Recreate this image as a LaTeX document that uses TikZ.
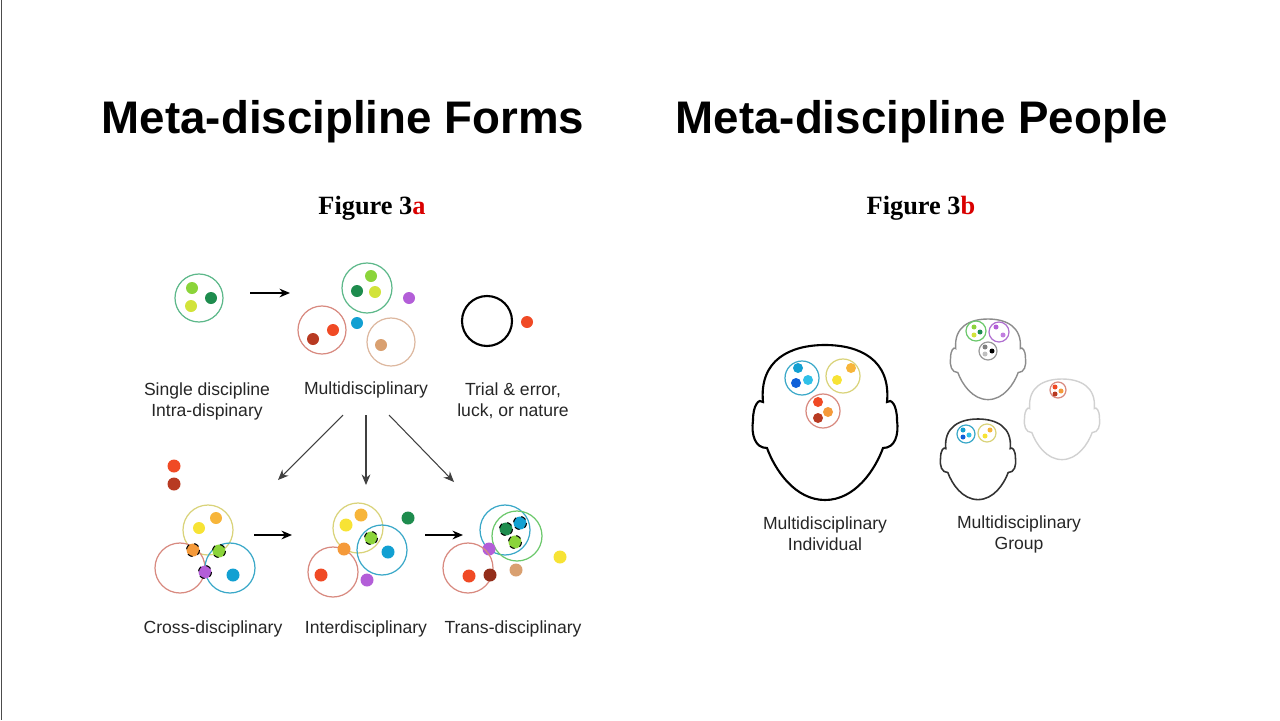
\documentclass[tikz,border=0pt]{standalone}
\usepackage{fontspec}
\setmainfont{Liberation Serif}
\setsansfont{Liberation Sans}
\usetikzlibrary{arrows.meta}
\definecolor{cLime}{HTML}{8BD43A}
\definecolor{cDkGreen}{HTML}{1E8C4E}
\definecolor{cYGreen}{HTML}{D2E33A}
\definecolor{cPurple}{HTML}{B35ED8}
\definecolor{cRed}{HTML}{F04A25}
\definecolor{cDkRed}{HTML}{B83A22}
\definecolor{cCyan}{HTML}{12A0D2}
\definecolor{cTan}{HTML}{D9A070}
\definecolor{cYellow}{HTML}{F7E335}
\definecolor{cOrange}{HTML}{F7B53A}
\definecolor{cOrg}{HTML}{F59A3A}
\definecolor{cBlue}{HTML}{1060D8}
\definecolor{cLtCyan}{HTML}{30C0E8}
\definecolor{rGreen}{HTML}{5DB88A}
\definecolor{rRed}{HTML}{D88A80}
\definecolor{rTan}{HTML}{DDB8A0}
\definecolor{rYellow}{HTML}{D9D37A}
\definecolor{rCyan}{HTML}{3AA8C8}
\definecolor{rLGreen}{HTML}{6CC86C}
\definecolor{rPurple}{HTML}{B070D0}
\tikzset{
  lbl/.style={font=\sffamily\fontsize{10}{12}\selectfont,align=center,text=black!85},
  arr/.style={-{Stealth[length=6pt,width=5pt]},thick},
  thinarr/.style={-{Stealth[length=6pt,width=5pt]},semithick,black!75},
  ring/.style={line width=0.7pt},
}
% spot{x}{y}{colour}{radius}
\newcommand{\spot}[4]{\fill[#3] (#1,#2) circle (#4);}
\newcommand{\dspot}[3]{\fill[#3] (#1,#2) circle (6.5);\draw[dashed,line width=0.6pt] (#1,#2) circle (6.5);}
% head{cx}{cy}{scale}{colour}{width}
\newcommand{\head}[5]{%
  \draw[#4,line width=#5,shift={(#1,#2)},scale=#3]
    (0,80) .. controls (30,80) and (50,50) .. (58,28)
    .. controls (70,28) and (74,15) .. (72,0)
    .. controls (72,-15) and (66,-22) .. (62,-18)
    .. controls (66,-60) and (35,-75) .. (0,-75)
    .. controls (-35,-75) and (-66,-60) .. (-62,-18)
    .. controls (-66,-22) and (-72,-15) .. (-72,0)
    .. controls (-74,15) and (-70,28) .. (-58,28)
    .. controls (-50,50) and (-30,80) .. (0,80) -- cycle;}
\begin{document}
\begin{tikzpicture}[x=0.02cm,y=-0.02cm]
\useasboundingbox (0,0) rectangle (1280,720);
\draw[black!70] (1,0) -- (1,720);
% titles
\node[font=\sffamily\bfseries\fontsize{26}{31}\selectfont] (tForms) at (343,122) {Meta-discipline Forms};
\node[font=\sffamily\bfseries\fontsize{26}{31}\selectfont] (tPeople) at (922,122) {Meta-discipline People};
\node[font=\bfseries\fontsize{15}{18}\selectfont] (fig3a) at (372,208) {Figure 3\textcolor{red!85!black}{a}};
\node[font=\bfseries\fontsize{15}{18}\selectfont] (fig3b) at (921,208) {Figure 3\textcolor{red!85!black}{b}};

% single discipline
\draw[ring,rGreen] (199,298) circle (24);
\spot{192}{288}{cLime}{6}\spot{211}{298}{cDkGreen}{6}\spot{191}{306}{cYGreen}{6}
\coordinate (aS1) at (250,293); \coordinate (aS2) at (290,293);
\draw[arr] (aS1) -- (aS2);

% multidisciplinary
\draw[ring,rGreen] (367,288) circle (25);
\spot{371}{276}{cLime}{6}\spot{357}{291}{cDkGreen}{6}\spot{375}{292}{cYGreen}{6}
\spot{409}{298}{cPurple}{6}
\draw[ring,rRed] (322,330) circle (24);
\spot{313}{339}{cDkRed}{6}\spot{333}{330}{cRed}{6}
\spot{357}{323}{cCyan}{6}
\draw[ring,rTan] (391,342) circle (24);
\spot{381}{345}{cTan}{6}

% trial and error
\draw[line width=1.2pt] (487,321) circle (25);
\spot{527}{322}{cRed}{6}

\node[lbl] (lSingle) at (207,401) {Single discipline\\Intra-dispinary};
\node[lbl] (lMulti) at (366,390) {Multidisciplinary};
\node[lbl] (lTrial) at (513,401) {Trial \& error,\\luck, or nature};

\coordinate (aL) at (278,480); \coordinate (aM) at (366,485); \coordinate (aR) at (454,482);
\draw[thinarr] (343,415) -- (aL);
\draw[thinarr] (366,415) -- (aM);
\draw[thinarr] (389,415) -- (aR);

% cross-disciplinary
\spot{174}{466}{cRed}{6.5}\spot{174}{484}{cDkRed}{6.5}
\draw[ring,rYellow] (208,530) circle (25);
\spot{199}{528}{cYellow}{6}\spot{216}{518}{cOrange}{6}
\draw[ring,rRed] (180,568) circle (25);
\draw[ring,rCyan] (230,568) circle (25);
\spot{233}{575}{cCyan}{6.5}
\dspot{193}{550}{cOrg}\dspot{219}{551}{cLime}\dspot{205}{572}{cPurple}
\coordinate (aC1) at (254,535); \coordinate (aC2) at (292,535);
\draw[arr] (aC1) -- (aC2);

% interdisciplinary
\draw[ring,rYellow] (358,528) circle (25);
\spot{346}{525}{cYellow}{6.5}\spot{361}{515}{cOrange}{6.5}
\draw[ring,rCyan] (382,550) circle (25);
\dspot{371}{538}{cLime}
\spot{388}{552}{cCyan}{6.5}
\draw[ring,rRed] (333,572) circle (25);
\spot{344}{549}{cOrg}{6.5}\spot{321}{575}{cRed}{6.5}
\spot{367}{580}{cPurple}{6.5}\spot{408}{518}{cDkGreen}{6.5}
\coordinate (aI1) at (425,535); \coordinate (aI2) at (463,535);
\draw[arr] (aI1) -- (aI2);

% trans-disciplinary
\draw[ring,rCyan] (505,530) circle (25);
\draw[ring,rLGreen] (517,536) circle (25);
\dspot{506}{529}{cDkGreen}\dspot{520}{523}{cCyan}\dspot{515}{542}{cLime}
\spot{489}{549}{cPurple}{6.5}
\draw[ring,rRed] (468,568) circle (25);
\spot{469}{576}{cRed}{6.5}\spot{490}{575}{cDkRed!80!black}{6.5}
\spot{516}{570}{cTan}{6.5}\spot{560}{557}{cYellow}{6.5}

\node[lbl] (lCross) at (213,629) {Cross-disciplinary};
\node[lbl] (lInter) at (366,629) {Interdisciplinary};
\node[lbl] (lTrans) at (513,629) {Trans-disciplinary};

% individual head
\head{825}{420}{1}{black}{1.2pt}
\draw[ring,rCyan] (802,378) circle (17);
\spot{798}{368}{cCyan}{5}\spot{796}{383}{cBlue}{5}\spot{808}{380}{cLtCyan}{5}
\draw[ring,rYellow] (843,376) circle (17);
\spot{837}{380}{cYellow}{5}\spot{851}{368}{cOrange}{5}
\draw[ring,rRed] (823,411) circle (17);
\spot{818}{402}{cRed}{5}\spot{828}{412}{cOrg}{5}\spot{818}{418}{cDkRed}{5}

% group heads
\head{988}{358}{0.52}{black!45}{0.8pt}
\draw[ring,rLGreen] (976,331) circle (10);
\spot{974}{327}{cLime}{2.5}\spot{980}{332}{cDkGreen}{2.5}\spot{974}{335}{cYGreen}{2.5}
\draw[ring,rPurple] (999,332) circle (10);
\spot{996}{327}{cPurple}{2.5}\spot{1003}{335}{cPurple!80}{2.5}
\draw[ring,black!40] (988,351) circle (9);
\spot{985}{347}{black!50}{2.5}\spot{992}{351}{black}{2.5}\spot{985}{354}{black!25}{2.5}

\head{978}{458}{0.52}{black!80}{0.9pt}
\draw[ring,rCyan] (966,434) circle (9);
\spot{963}{430}{cCyan}{2.5}\spot{963}{437}{cBlue}{2.5}\spot{969}{435}{cLtCyan}{2.5}
\draw[ring,rYellow] (987,433) circle (9);
\spot{985}{436}{cYellow}{2.5}\spot{990}{430}{cOrange}{2.5}

\head{1062}{418}{0.52}{black!18}{0.8pt}
\draw[ring,rRed] (1058,390) circle (8);
\spot{1055}{387}{cRed}{2.5}\spot{1061}{391}{cOrg}{2.5}\spot{1055}{394}{cDkRed}{2.5}

\node[lbl] (lIndiv) at (825,534) {Multidisciplinary\\Individual};
\node[lbl] (lGroup) at (1019,534) {Multidisciplinary\\Group};
\end{tikzpicture}
\end{document}
